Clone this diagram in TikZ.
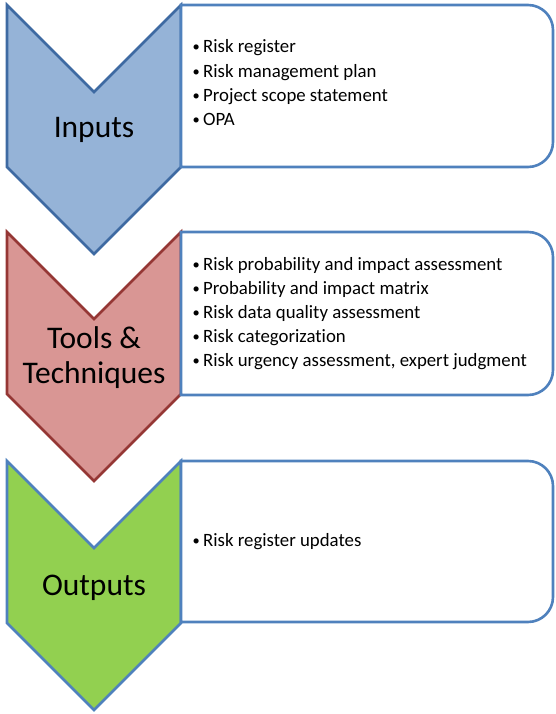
\documentclass[tikz,border=0pt]{standalone}
\usepackage{fontspec}
\setmainfont[Ligatures={NoCommon}]{Carlito}
\definecolor{boxline}{HTML}{4F81BD}
\definecolor{bluefill}{HTML}{95B3D7}
\definecolor{blueline}{HTML}{3E6AA2}
\definecolor{redfill}{HTML}{D99694}
\definecolor{redline}{HTML}{953735}
\definecolor{greenfill}{HTML}{92D050}
\tikzset{
  chev/.style={line width=2.6pt, line join=miter},
  listbox/.style={draw=boxline, fill=white, line width=2.6pt},
  lbl/.style={font=\fontsize{31.5}{37}\selectfont, align=center, inner sep=0pt},
  item/.style={font=\fontsize{18.8}{24}\selectfont, anchor=base west, inner sep=0pt}
}
\newcommand{\bul}{\makebox[10.5pt][l]{\raisebox{1pt}{\fontsize{14.5}{14.5}\selectfont\textbullet}}}
\begin{document}
\begin{tikzpicture}[x=1pt,y=-1pt]
\useasboundingbox (0,0) rectangle (555,714);
% chevrons
\draw[chev, fill=bluefill, draw=blueline] (7,5) -- (94,92) -- (181,5) -- (181,167) -- (94,254) -- (7,167) -- cycle;
\draw[chev, fill=redfill, draw=redline] (7,232) -- (94,319) -- (181,232) -- (181,394) -- (94,481) -- (7,394) -- cycle;
\draw[chev, fill=greenfill, draw=boxline] (7,461) -- (94,548) -- (181,461) -- (181,623) -- (94,710) -- (7,623) -- cycle;
% boxes
\draw[listbox] (181,5) -- (528,5) arc[start angle=-90, end angle=0, radius=25] -- (553,142) arc[start angle=0, end angle=90, radius=25] -- (181,167) -- cycle;
\draw[listbox] (181,232) -- (528,232) arc[start angle=-90, end angle=0, radius=25] -- (553,370) arc[start angle=0, end angle=90, radius=25] -- (181,395) -- cycle;
\draw[listbox] (181,461) -- (528,461) arc[start angle=-90, end angle=0, radius=25] -- (553,597) arc[start angle=0, end angle=90, radius=25] -- (181,622) -- cycle;
% labels
\node[lbl, anchor=base] (inputs) at (94,138) {Inputs};
\node[lbl, anchor=base] (tools) at (94,348) {Tools \&};
\node[lbl, anchor=base] (tech) at (94,383) {Techniques};
\node[lbl, anchor=base] (outputs) at (94,595) {Outputs};
% items
\node[item] (i1) at (192.5,53) {\bul Risk register};
\node[item] (i2) at (192.5,77.3) {\bul Risk management plan};
\node[item] (i3) at (192.5,101.6) {\bul Project scope statement};
\node[item] (i4) at (192.5,125.9) {\bul OPA};
\node[item] (t1) at (192.5,270) {\bul Risk probability and impact assessment};
\node[item] (t2) at (192.5,294.2) {\bul Probability and impact matrix};
\node[item] (t3) at (192.5,318.4) {\bul Risk data quality assessment};
\node[item] (t4) at (192.5,342.6) {\bul Risk categorization};
\node[item] (t5) at (192.5,366.8) {\bul Risk urgency assessment, expert judgment};
\node[item] (o1) at (192.5,546) {\bul Risk register updates};
\end{tikzpicture}
\end{document}
